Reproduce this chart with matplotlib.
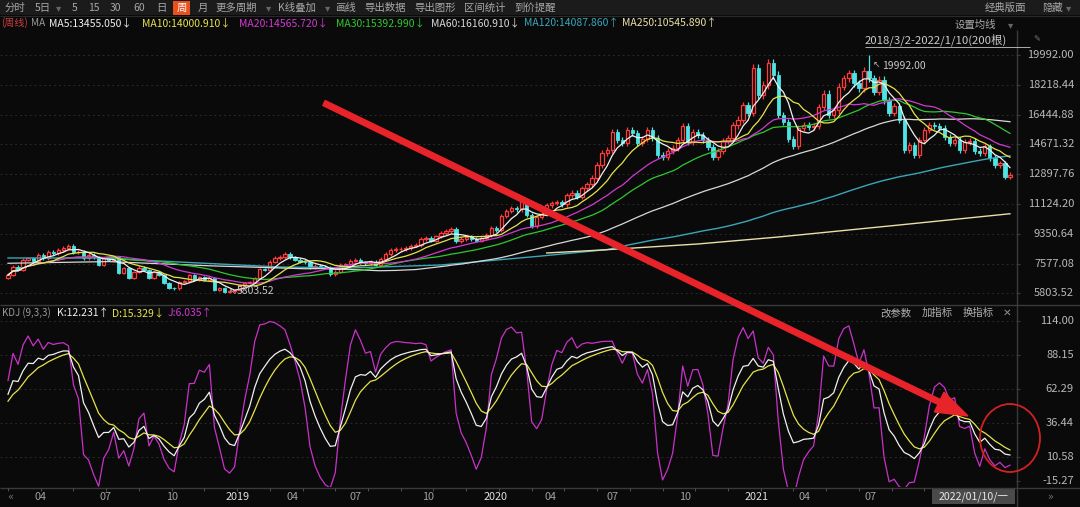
import numpy as np
import pandas as pd
import matplotlib
matplotlib.use("Agg")
import matplotlib.pyplot as plt
from matplotlib.patches import Rectangle, Ellipse, FancyArrow

# ---------------- data ----------------
closes = [
    6900, 7380, 7200, 7800, 7900, 7740, 8090, 7910, 8270, 8210,
    8390, 8510, 8650, 8250, 8300, 7910, 8090, 7950, 7500, 7900,
    7800, 7950, 7020, 7300, 6720, 7080, 7320, 7200, 6720, 7080,
    6900, 6430, 6130, 6100, 6490, 6550, 6900, 6610, 6780, 6600,
    6700, 6010, 6130, 5900, 5950, 6000, 6300, 6430, 6480, 6720,
    7260, 7200, 7680, 7910, 7970, 8150, 7950, 7800, 7700, 7650,
    7350, 7450, 7400, 7350, 6950, 7100, 7500, 7550, 7750, 7800,
    7650, 7600, 7700, 7500, 7850, 8150, 8400, 8450, 8450, 8500,
    8650, 8690, 9050, 9100, 8950, 9200, 9400, 9500, 9650, 8900,
    9050, 9150, 9050, 8950, 9100, 9300, 9700, 9600, 10400, 10700,
    10900, 10800, 11300, 10450, 9800, 10350, 10550, 11050, 11200, 11240,
    11100, 11650, 11800, 11550, 12050, 12300, 12700, 13450, 14150, 14350,
    15400, 14950, 14750, 15550, 15350, 14750, 15000, 15500, 15050, 14050,
    13900, 14300, 14450, 14950, 15750, 14800, 15400, 15250, 14950, 14500,
    13900, 14300, 14850, 15050, 15800, 16150, 17000, 16550, 19200, 17600,
    18200, 19500, 18800, 16420, 16000, 15000, 14550, 15650, 15830, 15700,
    15750, 16900, 17700, 16450, 16700, 18100, 18600, 18900, 18300, 18000,
    19050, 18600, 17800, 18500, 17300, 16550, 16950, 16150, 14350, 14650,
    14050, 14950, 15550, 15800, 15750, 15650, 15100, 14750, 14950, 14350,
    14800, 14850, 14300, 14150, 14550, 13850, 13450, 13550, 12750, 12850,
]
first_open = 6750
peak_bar, peak_high = 171, 19992.00
trough_bar, trough_low = 45, 5803.52

ma_early60_bars = [0, 20, 40]
ma_early60_vals = [7600, 7700, 7450]
ma_early120_bars = [0, 18, 38, 54, 68, 86, 106]
ma_early120_vals = [7914, 7914, 7616, 7379, 7320, 7498, 8033]
ma250_bars = [107, 118, 137, 153, 177, 199]
ma250_vals = [8212, 8390, 8747, 9163, 9877, 10546]

price_ticks = [19992.00, 18218.44, 16444.88, 14671.32, 12897.76, 11124.20, 9350.64, 7577.08, 5803.52]
kdj_ticks = [114.00, 88.15, 62.29, 36.44, 10.58, -15.27]
x_labels = ["04", "07", "10", "2019", "04", "07", "10", "2020", "04", "07", "10", "2021", "04", "07"]
x_label_bars = [6.4, 19.3, 32.6, 45.7, 56.5, 69.0, 83.5, 96.8, 107.8, 120.1, 134.4, 148.7, 158.1, 171.4]

ma_legend = [("MA5:13455.050↓", "#f0f0f0"), ("MA10:14000.910↓", "#e6e34a"),
             ("MA20:14565.720↓", "#d03ad0"), ("MA30:15392.990↓", "#2fc82f"),
             ("MA60:16160.910↓", "#d8d8d8"), ("MA120:14087.860↑", "#3aa6b8"),
             ("MA250:10545.890↑", "#e8e0a8")]
kdj_legend = [("K:12.231↑", "#f0f0f0"), ("D:15.329↓", "#e6e34a"), ("J:6.035↑", "#d03ad0")]

# ---------------- derived ----------------
c = np.array(closes, dtype=float)
n = len(c)
o = np.concatenate([[first_open], c[:-1]])
body_hi = np.maximum(o, c)
body_lo = np.minimum(o, c)
hi = body_hi * 1.012
lo = body_lo * 0.988
hi[peak_bar] = peak_high
lo[trough_bar] = trough_low
s = pd.Series(c)
ma5 = s.rolling(5, min_periods=1).mean().values
ma10 = s.rolling(10, min_periods=1).mean().values
ma20 = s.rolling(20, min_periods=1).mean().values
ma30 = s.rolling(30, min_periods=1).mean().values
ma60 = s.rolling(60).mean().values
ma120 = s.rolling(120).mean().values

# KDJ(9,3,3)
low9 = pd.Series(lo).rolling(9, min_periods=1).min().values
high9 = pd.Series(hi).rolling(9, min_periods=1).max().values
rsv = (c - low9) / (high9 - low9) * 100
K = np.zeros(n); D = np.zeros(n)
k_prev, d_prev = 50.0, 50.0
for i in range(n):
    k_prev = 2 / 3 * k_prev + rsv[i] / 3
    d_prev = 2 / 3 * d_prev + k_prev / 3
    K[i], D[i] = k_prev, d_prev
J = 3 * K - 2 * D

# ---------------- style ----------------
plt.rcParams['font.family'] = ['Noto Sans CJK SC', 'DejaVu Sans']
BG = "#0a0a0a"
BAR_BG = "#1b1b1b"
UP = "#ff3c3c"
DOWN = "#4fe3e3"
GRID = "#2a2a2a"
AXC = "#3a3a3a"
TXT = "#b8b8b8"
FS = 7.5
W, H = 1080, 507
fig = plt.figure(figsize=(W / 100, H / 100), dpi=100)
fig.patch.set_facecolor(BG)

def fax(x0, y0, x1, y1):
    a = fig.add_axes([x0 / W, 1 - y1 / H, (x1 - x0) / W, (y1 - y0) / H])
    a.set_facecolor("none")
    for sp in a.spines.values():
        sp.set_visible(False)
    a.set_xticks([]); a.set_yticks([])
    return a

PX_RIGHT = 1016
BAR_PX = 5.035
XMIN = -8 / BAR_PX
XMAX = XMIN + PX_RIGHT / BAR_PX

def p2y(v):
    return 55 + (19992 - v) / 59.5

# price panel
ax = fax(0, 30, PX_RIGHT, 304)
ax.set_xlim(XMIN, XMAX)
ax.set_ylim(19992 - (304 - 55) * 59.5, 19992 + 25 * 59.5)
for t in price_ticks:
    ax.axhline(t, color=GRID, lw=0.7, ls=(0, (2, 3)), zorder=0)
xs = np.arange(n)
bw = 0.66
for i in range(n):
    up = c[i] >= o[i]
    col = UP if up else DOWN
    ax.vlines(i, lo[i], body_lo[i], color=col, lw=0.9, zorder=2)
    ax.vlines(i, body_hi[i], hi[i], color=col, lw=0.9, zorder=2)
    h = max(body_hi[i] - body_lo[i], 25)
    if up:
        ax.add_patch(Rectangle((i - bw / 2, body_lo[i]), bw, h, facecolor=BG, edgecolor=col, lw=0.9, zorder=3))
    else:
        ax.add_patch(Rectangle((i - bw / 2, body_lo[i]), bw, h, facecolor=col, edgecolor=col, lw=0.6, zorder=3))

ax.plot(ma_early120_bars + list(xs[119:]), ma_early120_vals + list(ma120[119:]), color="#3aa6b8", lw=1.0, zorder=4)
ax.plot(ma250_bars, ma250_vals, color="#e8e0a8", lw=1.0, zorder=4)
ax.plot(ma_early60_bars + list(xs[59:]), ma_early60_vals + list(ma60[59:]), color="#d8d8d8", lw=0.9, zorder=4)
ax.plot(xs, ma30, color="#2fc82f", lw=0.9, zorder=4)
ax.plot(xs, ma20, color="#d03ad0", lw=0.9, zorder=4)
ax.plot(xs, ma10, color="#e6e34a", lw=0.9, zorder=4)
ax.plot(xs, ma5, color="#f0f0f0", lw=0.9, zorder=4)

# KDJ panel
kx = fax(0, 305, PX_RIGHT, 487)
kx.set_xlim(XMIN, XMAX)
kx.set_ylim(-12.6, 125.8)
for t in kdj_ticks[:-1]:
    kx.axhline(t, color=GRID, lw=0.7, ls=(0, (2, 3)), zorder=0)
kx.plot(xs, J, color="#c832c8", lw=0.9)
kx.plot(xs, D, color="#e6e34a", lw=0.9)
kx.plot(xs, K, color="#f0f0f0", lw=0.9)

# overlay in pixel coords
ov = fig.add_axes([0, 0, 1, 1])
ov.set_xlim(0, W); ov.set_ylim(H, 0)
ov.axis("off")
ov.set_facecolor("none")

ov.add_patch(Rectangle((0, 0), W, 15, facecolor=BAR_BG, edgecolor="none", zorder=0))
ov.hlines([15.5], 0, W, color="#2a2a2a", lw=0.8)
ov.hlines([304.5, 487.5], 0, W, color=AXC, lw=1.0)
ov.vlines(PX_RIGHT + 0.5, 30, H, color=AXC, lw=1.0)

tool_items = [("分时", 5), ("5日", 35), ("▾", 56), ("5", 72), ("15", 88), ("30", 110), ("60", 133),
              ("日", 156), ("月", 198), ("更多周期", 216), ("▾", 266), ("K线叠加", 278), ("▾", 325),
              ("画线", 335), ("导出数据", 364), ("导出图形", 414), ("区间统计", 464), ("到价提醒", 514)]
for t, x in tool_items:
    ov.text(x, 8, t, color="#a8a8a8" if t != "▾" else "#666666", fontsize=7.5, va="center", ha="left")
ov.add_patch(Rectangle((173, 0.5), 17, 14, facecolor="#e8501e", edgecolor="none"))
ov.text(181.5, 8, "周", color="#ffffff", fontsize=7.5, va="center", ha="center")
ov.text(985, 8, "经典版面", color="#a8a8a8", fontsize=7.5, va="center")
ov.text(1042, 8, "隐藏", color="#a8a8a8", fontsize=7.5, va="center")
ov.text(1066, 8, "▾", color="#666666", fontsize=7.5, va="center")

# MA legend row
ov.text(1, 23, "(周线)", color="#c84040", fontsize=7.2, va="center")
ov.text(31, 23, "MA", color="#9a9a9a", fontsize=7.2, va="center")
ma_x = [49, 142, 239, 336, 431, 524, 622]
for (t, col), x in zip(ma_legend, ma_x):
    ov.text(x, 23, t, color=col, fontsize=FS, va="center")
ov.text(955, 25, "设置均线", color="#a8a8a8", fontsize=7.5, va="center")
ov.text(1008, 25, "▾", color="#666666", fontsize=7.5, va="center")
ov.text(865, 40, "2018/3/2-2022/1/10(200根)", color="#c8c8c8", fontsize=8.2, va="center")
ov.hlines(46.5, 865, 1030, color="#c8c8c8", lw=0.6)
ov.text(1037, 39, "✎", color="#777777", fontsize=6, va="center", ha="center", family="DejaVu Sans")

# price axis labels
for t in price_ticks:
    y = p2y(t)
    ov.hlines(y, PX_RIGHT, PX_RIGHT + 4, color=AXC, lw=0.8)
    ov.text(1074, y, f"{t:.2f}", color=TXT, fontsize=8, va="center", ha="right")

# annotations of extremes
ov.text(873, 64, "↖", color="#b0b0b0", fontsize=6.5, va="center", family="DejaVu Sans")
ov.text(882, 66, "19992.00", color="#c8c8c8", fontsize=FS, va="center")
ov.text(229, 291, "↖", color="#b0b0b0", fontsize=6.5, va="center", family="DejaVu Sans")
ov.text(237, 291, "5803.52", color="#c8c8c8", fontsize=FS, va="center")

# KDJ header
ov.text(2, 313, "KDJ (9,3,3)", color="#9a9a9a", fontsize=7.0, va="center")
for (t, col), x in zip(kdj_legend, [57, 112, 168]):
    ov.text(x, 313, t, color=col, fontsize=FS, va="center")
for t, x in [("改参数", 880), ("加指标", 922), ("换指标", 963)]:
    ov.text(x, 313, t, color="#b0b0b0", fontsize=7.5, va="center")
ov.text(1007, 313, "✕", color="#909090", fontsize=7.5, va="center", ha="center", family="DejaVu Sans")

# KDJ axis labels
ky0, ky1 = 305, 487
def k2y(v):
    return ky0 + (125.8 - v) / (125.8 + 12.6) * (ky1 - ky0)
for t in kdj_ticks:
    y = min(k2y(t), 481)
    ov.hlines(y, PX_RIGHT, PX_RIGHT + 4, color=AXC, lw=0.8)
    ov.text(1074, y, f"{t:.2f}", color=TXT, fontsize=8, va="center", ha="right")

# x axis labels
for lab, b in zip(x_labels, x_label_bars):
    px = 8 + b * BAR_PX
    col = "#e0e0e0" if len(lab) == 4 else "#a0a0a0"
    ov.text(px, 497, lab, color=col, fontsize=7.8, va="center", ha="center")
for b in np.arange(0, n, 6.5):
    ov.vlines(8 + b * BAR_PX, 488, 491, color="#505050", lw=0.7)
ov.add_patch(Rectangle((932, 489), 83, 15, facecolor="#4a4a4a", edgecolor="none"))
ov.text(973.5, 497, "2022/01/10/一", color="#e8e8e8", fontsize=7.6, va="center", ha="center")
ov.text(10, 497, "«", color="#707070", fontsize=7, va="center", ha="center", family="DejaVu Sans")
ov.text(1050, 497, "»", color="#707070", fontsize=7, va="center", ha="center", family="DejaVu Sans")

# red arrow and circle
ov.add_patch(FancyArrow(324, 103, 968 - 324, 416 - 103, width=5.5, head_width=22, head_length=32,
                        length_includes_head=True, color="#e8242a", zorder=10))
ov.add_patch(Ellipse((1010, 438), 60, 68, fill=False, edgecolor="#d42020", lw=1.3, zorder=10))

fig.savefig("out.png", dpi=100, facecolor=BG)
